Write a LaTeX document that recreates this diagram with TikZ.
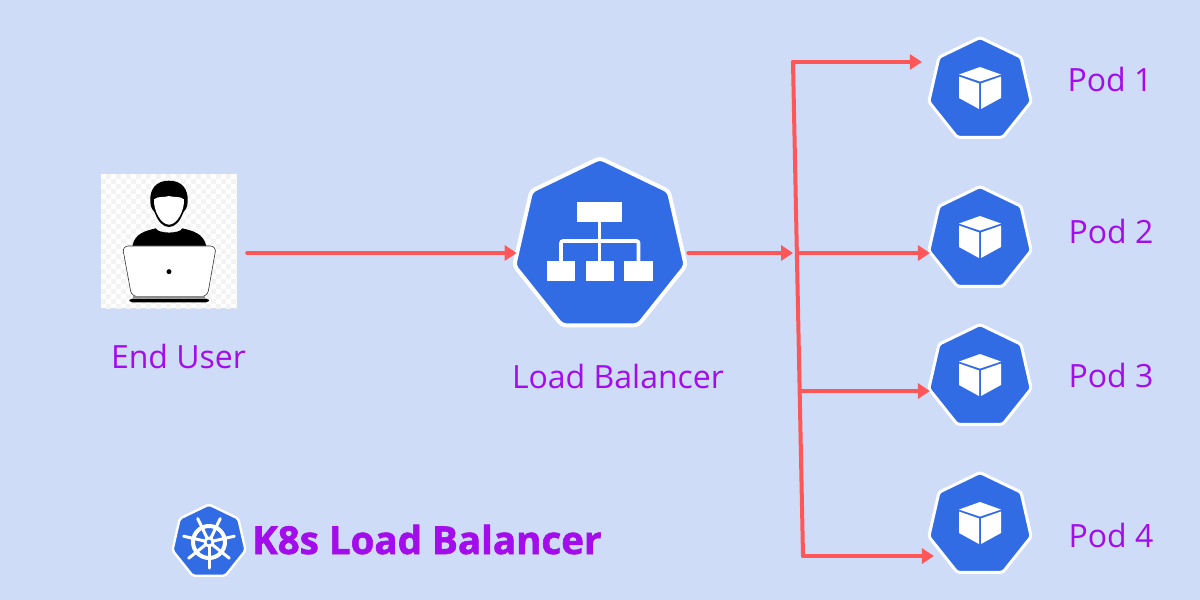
\documentclass[tikz,border=0pt]{standalone}
\usepackage{fontspec}
\setmainfont{Open Sans}
\newfontfamily\titlefont[FakeBold=1.6]{Open Sans Bold}
\usetikzlibrary{shapes.geometric,arrows.meta}
\definecolor{bgc}{HTML}{CEDCF8}
\definecolor{kblue}{HTML}{326CE5}
\definecolor{redc}{HTML}{FF5757}
\definecolor{purp}{HTML}{A30CEB}
\definecolor{chk}{HTML}{F3F3F3}
\tikzset{
  hepta/.style={regular polygon,regular polygon sides=7,fill=kblue,draw=white,line width=3pt,inner sep=0pt,rounded corners=2.5pt},
  lbl/.style={text=purp,font=\fontsize{32}{38}\selectfont,inner sep=0pt,anchor=base},
  flow/.style={draw=redc,line width=4pt,line cap=round,-{Triangle[length=12pt,width=15pt]}},
  trunk/.style={draw=redc,line width=4pt,line cap=round},
  wht/.style={fill=white,draw=none},
  cube/.pic={
    \fill[white] (0,-23) -- (21,-15.5) -- (0,-8.5) -- (-21,-15.5) -- cycle;
    \fill[white] (-21,-13.5) -- (-1,-6.5) -- (-1,19) -- (-21,8) -- cycle;
    \fill[white] (21,-13.5) -- (1,-6.5) -- (1,19) -- (21,8) -- cycle;
  }
}
\begin{document}
\begin{tikzpicture}[x=1pt,y=-1pt]
\useasboundingbox (0,0) rectangle (1200,600);
\fill[bgc] (0,0) rectangle (1200,600);
% end user
\node[minimum width=136pt,minimum height=134pt,inner sep=0pt,fill=white] (user) at (169,241) {};
\begin{scope}
  \clip (101,174) rectangle (237,308);
  \foreach \i in {0,...,27}{\foreach \j in {0,...,27}{
    \pgfmathparse{int(mod(\i+\j,2))}
    \ifnum\pgfmathresult=1 \fill[chk] (101+\i*5,174+\j*5) rectangle ++(5,5);\fi
  }}
\end{scope}
\begin{scope}[shift={(90,165)},x=0.3333pt,y=-0.3333pt]
  \fill[black] (181,112) .. controls (178,70) and (200,47) .. (237,47) .. controls (274,47) and (296,70) .. (293,112) .. controls (292,130) and (285,135) .. (280,142) .. controls (270,170) and (255,186) .. (237,186) .. controls (219,186) and (204,170) .. (194,142) .. controls (189,135) and (182,130) .. (181,112) -- cycle;
  \fill[white] (192,103) .. controls (205,92) and (225,98) .. (237,93) .. controls (250,98) and (268,92) .. (282,103) .. controls (284,135) and (262,179) .. (237,179) .. controls (212,179) and (190,135) .. (192,103) -- cycle;
  \fill[black] (127,243) .. controls (135,205) and (165,198) .. (197,190) .. controls (205,207) and (270,207) .. (277,190) .. controls (310,198) and (340,205) .. (349,243) -- cycle;
  \draw[black!80,fill=white,line width=0.6pt,rounded corners=6pt] (97,243) -- (379,243) -- (352,395) -- (125,395) -- cycle;
  \fill[black!45] (130,393) rectangle (345,398);
  \fill[black] (237,320) circle (7.5);
  \fill[black,rounded corners=3pt] (118,401) rectangle (357,412);
\end{scope}
\node[lbl] (userlbl) at (178.5,368) {End User};
% load balancer
\node[hepta,minimum size=176pt,line width=4pt,rounded corners=4pt] (lb) at (600,246) {};
\fill[wht] (577,202) rectangle (622,222);
\fill[wht] (547,261) rectangle (575,281);
\fill[wht] (586,261) rectangle (614,281);
\fill[wht] (624,261) rectangle (653,281);
\draw[white,line width=3.6pt,rounded corners=1pt] (599.5,222) -- (599.5,261);
\draw[white,line width=3.6pt,rounded corners=2pt] (561,261) -- (561,241) -- (638.5,241) -- (638.5,261);
\node[lbl] (lblb) at (618,388) {Load Balancer};
% pods
\foreach \n/\yy/\ly/\lx in {1/90/91/1110,2/239/243/1111,3/377/387/1111,4/525/547/1111}{
  \node[hepta,minimum size=105pt] (pod\n) at (980,\yy) {};
  \pic at (pod\n.center) {cube};
  \node[lbl] (podlbl\n) at (\lx,\ly) {Pod \n};
}
% connectors
\coordinate (tt) at (793,62);
\coordinate (j) at (793,253);
\coordinate (b2) at (800,253);
\coordinate (b3) at (801,391);
\coordinate (tb) at (803,556);
\draw[trunk] (tt) -- (tb);
\draw[flow,shorten <=10pt] (user.east |- j) -- (lb.west |- j);
\draw[flow,shorten <=5pt] (lb.east |- j) -- (j);
\draw[flow,shorten >=8pt] (tt) -- (pod1.west |- tt);
\draw[flow] (b2) -- (pod2.west |- b2);
\draw[flow] (b3) -- (pod3.west |- b3);
\draw[flow,shorten >=-4pt] (tb) -- (pod4.west |- tb);
% title
\node[hepta,minimum size=75pt,line width=2.4pt,rounded corners=2pt] (k8s) at (209,542) {};
\draw[white,line width=4pt] (k8s.center) circle (16);
\fill[white] (k8s.center) circle (5.5);
\fill[kblue] (k8s.center) circle (2.3);
\foreach \a in {90,141.4,192.9,244.3,295.7,347.1,38.6}{
  \draw[white,line width=3pt,line cap=round] ([shift={(\a:5)}]k8s.center) -- ([shift={(\a:26)}]k8s.center);
}
\node[inner sep=0pt,anchor=base west,text=purp,font=\titlefont\fontsize{38.5}{44}\selectfont] (title) at (252,554) {K8s Load Balancer};
\end{tikzpicture}
\end{document}
